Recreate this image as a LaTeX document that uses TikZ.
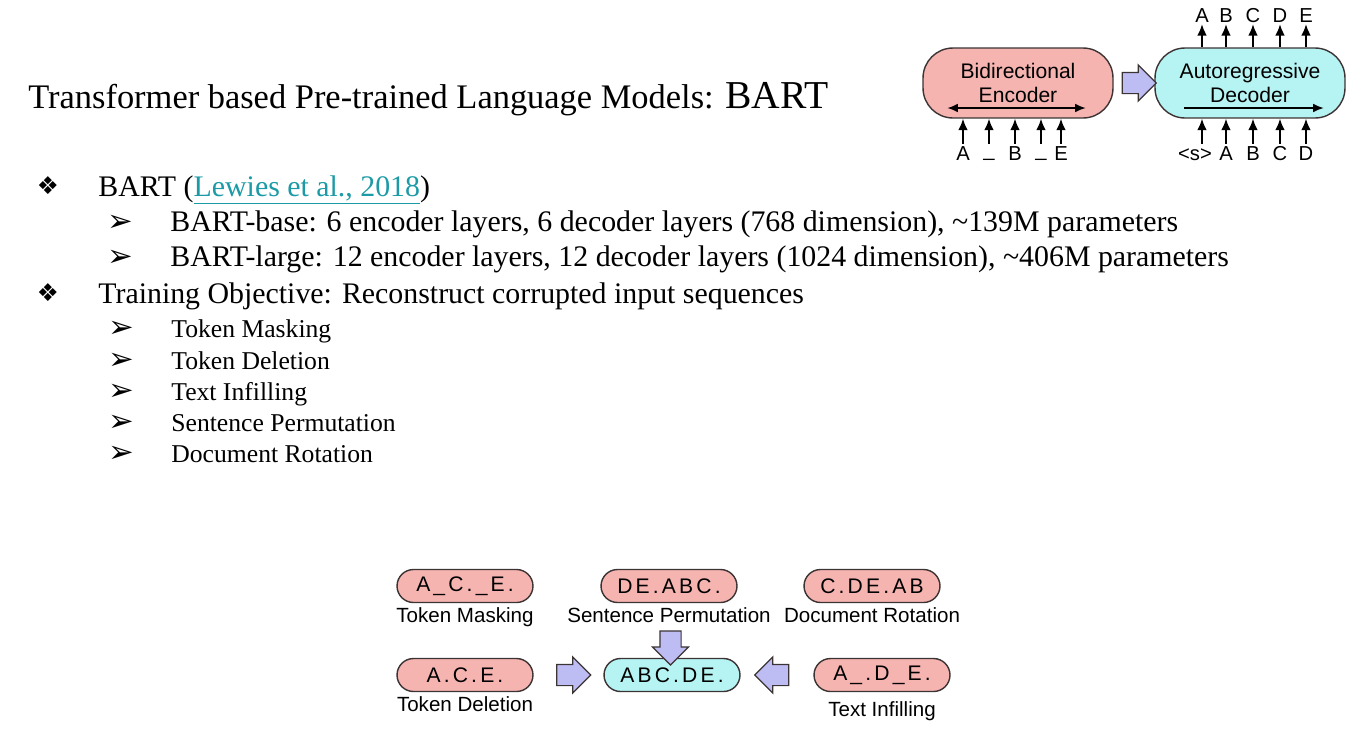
\documentclass[tikz,border=0pt]{standalone}
\usepackage{fontspec}
\setmainfont{Liberation Serif}
\newfontfamily\diagfont{Liberation Sans}
\newfontfamily\pillfont[LetterSpace=15]{Liberation Sans}
\newfontfamily\symfont{DejaVu Sans}
\usepackage{tikz}
\usetikzlibrary{positioning, shapes.arrows, arrows.meta, calc}

\definecolor{pinkfill}{HTML}{F6B4B1}
\definecolor{cyanfill}{HTML}{B6F3F3}
\definecolor{arrowfill}{HTML}{BDBDF4}
\definecolor{boxline}{HTML}{3C3434}
\definecolor{linkc}{HTML}{1C9AA6}

\tikzset{
  item/.style={anchor=base west, inner sep=0pt, font=\fontsize{17}{20}\selectfont},
  subitem/.style={anchor=base west, inner sep=0pt, font=\fontsize{14.6}{18}\selectfont},
  bulletsym/.style={anchor=center, inner sep=0pt, font=\symfont\fontsize{14}{16}\selectfont},
  subsym/.style={anchor=center, inner sep=0pt, font=\symfont\fontsize{17.5}{19}\selectfont},
  modelbox/.style={draw=boxline, line width=0.8pt, rounded corners=0.6cm, minimum width=3.8cm,
    minimum height=1.4cm, align=center, font=\diagfont\fontsize{12}{14}\selectfont},
  tok/.style={inner sep=1pt, text height=8pt, text depth=0pt, font=\diagfont\fontsize{11.5}{13}\selectfont},
  tokarrow/.style={-{Latex[length=6.5pt,width=5.5pt]}, line width=1pt},
  pill/.style={draw=boxline, line width=0.8pt, rounded corners=0.33cm, minimum width=2.72cm,
    minimum height=0.66cm, inner sep=0pt, font=\pillfont\fontsize{12}{14}\selectfont},
  pilllabel/.style={inner sep=0pt, text height=8.5pt, text depth=2.5pt, font=\diagfont\fontsize{11.7}{14}\selectfont},
  bigarrow/.style={single arrow, draw=boxline, fill=arrowfill, line width=0.7pt, inner sep=0.2cm,
    single arrow head extend=0.15cm, minimum height=0.68cm, single arrow head indent=0pt}
}
\newcommand{\blank}{\raisebox{1.8pt}{\_}}

\begin{document}
\begin{tikzpicture}[x=0.02cm, y=-0.02cm]
    \useasboundingbox (0,0) rectangle (1352,748);

    % Title
    \node[anchor=base west, inner sep=0pt, font=\fontsize{19.6}{22}\selectfont] (title) at (28,108)
      {Transformer based Pre-trained Language Models: {\fontsize{22.5}{26}\selectfont BART}};

    % Bullet list
    \node[bulletsym] (b1) at (48,186) {❖};
    \node[item] (bart) at (98,196) {BART ({\color{linkc}\underline{Lewies et al., 2018}})};
    \foreach \i/\y/\t in {1/231/{BART-base: 6 encoder layers, 6 decoder layers (768 dimension), \textasciitilde139M parameters},
                          2/266/{BART-large: 12 encoder layers, 12 decoder layers (1024 dimension), \textasciitilde406M parameters}} {
      \node[subsym] (sa\i) at (120,\y-8) {➢};
      \node[item] (size\i) at (170,\y) {\t};
    }
    \node[bulletsym] (b2) at (48,293) {❖};
    \node[item] (obj) at (98,303) {Training Objective: Reconstruct corrupted input sequences};
    \foreach \i/\y/\t in {1/337/Token Masking, 2/369/Token Deletion, 3/400/Text Infilling,
                          4/431/Sentence Permutation, 5/462/Document Rotation} {
      \node[subsym] (sb\i) at (121,\y-8) {➢};
      \node[subitem] (noise\i) at (171,\y) {\t};
    }

    % Encoder and decoder
    \node[modelbox, fill=pinkfill] (enc) at (1018,83) {Bidirectional\\Encoder};
    \node[modelbox, fill=cyanfill] (dec) at (1250,83) {Autoregressive\\Decoder};
    \node[bigarrow] (encdec) at ($(enc.east)!0.5!(dec.west)$) {};
    \draw[{Latex[length=6pt,width=5pt]}-{Latex[length=6pt,width=5pt]}, line width=0.9pt]
      ($(enc.west)+(25,25)$) coordinate (el) -- ($(enc.east)+(-28,25)$) coordinate (er);
    \draw[-{Latex[length=6pt,width=5pt]}, line width=0.9pt]
      ($(dec.west)+(30,25)$) coordinate (dl) -- ($(dec.east)+(-22,25)$) coordinate (dr);

    % Encoder inputs
    \foreach \x/\t in {963/A, 989/\blank, 1015/B, 1041/\blank, 1061/E} {
      \node[tok] (in\x) at (\x,153) {\t};
      \draw[tokarrow] (in\x.north) -- (in\x.north |- enc.south);
    }
    % Decoder inputs and outputs
    \foreach \x/\t/\o in {1202/<s>/A, 1226/A/B, 1253/B/C, 1280/C/D, 1306/D/E} {
      \node[tok] (din\x) at (\x,153) {\phantom{A}};
      \draw[tokarrow] (din\x.north) -- (din\x.north |- dec.south);
      \node[tok] (dout\x) at (\x,15) {\o};
      \draw[tokarrow] (dout\x.south |- dec.north) -- (dout\x.south);
    }
    \foreach \x/\t in {1195/<s>, 1226/A, 1253/B, 1280/C, 1306/D} {
      \node[tok] (dlbl\x) at (\x,153) {\t};
    }

    % Noising transformations
    \node[pill, fill=pinkfill] (mask) at (465,586) {A\_C.\_E.};
    \node[pill, fill=pinkfill] (perm) at (669,586) {DE.ABC.};
    \node[pill, fill=pinkfill] (rot) at (872,586) {C.DE.AB};
    \node[pill, fill=pinkfill] (dele) at (465,675) {A.C.E.};
    \node[pill, fill=cyanfill] (recon) at (672,675) {ABC.DE.};
    \node[pill, fill=pinkfill] (infill) at (882,675) {A\_.D\_E.};

    \node[pilllabel, below=2.5pt of mask] (masklbl) {Token Masking};
    \node[pilllabel, below=2.5pt of perm] (permlbl) {Sentence Permutation};
    \node[pilllabel, below=2.5pt of rot] (rotlbl) {Document Rotation};
    \node[pilllabel, below=2pt of dele] (delelbl) {Token Deletion};
    \node[pilllabel, below=5pt of infill] (infilllbl) {Text Infilling};

    \node[bigarrow] (a1) at ($(dele.east)!0.5!(recon.west)$) {};
    \node[bigarrow, shape border rotate=180] (a2) at ($(infill.west)!0.5!(recon.east)$) {};
    \node[bigarrow, shape border rotate=270] (a3) at ($(permlbl.south)!0.5!(recon.north)$) {};

\end{tikzpicture}
\end{document}
